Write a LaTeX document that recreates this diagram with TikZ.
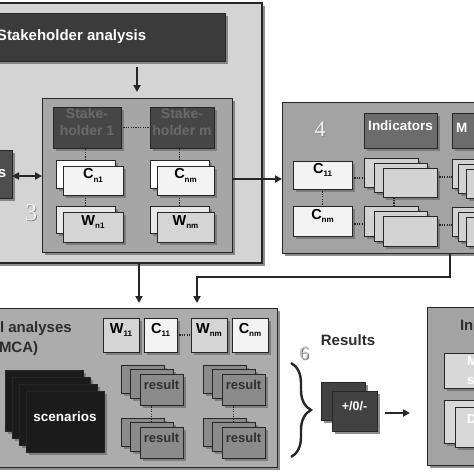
\documentclass[tikz,border=0pt]{standalone}
\usepackage{fontspec}
\setmainfont{Liberation Sans}
\newfontfamily\digitfont{Liberation Serif}
\usetikzlibrary{arrows.meta,fit,shadows,decorations.pathreplacing,calc}
\newcommand\mysub[1]{\raisebox{-0.4ex}{\fontsize{8}{8}\selectfont #1}}
\definecolor{cOuter}{HTML}{D4D4D4}
\definecolor{cDark}{HTML}{3B3B3B}
\definecolor{cLsc}{HTML}{4E4E4E}
\definecolor{cIn3}{HTML}{A6A6A6}
\definecolor{cSh}{HTML}{464646}
\definecolor{cShTxt}{HTML}{6A6A6A}
\definecolor{cC}{HTML}{F3F3F3}
\definecolor{cW}{HTML}{D5D5D5}
\definecolor{cWb}{HTML}{E8E8E8}
\definecolor{cSt4}{HTML}{A3A3A3}
\definecolor{cInd}{HTML}{6C6C6C}
\definecolor{cStack}{HTML}{D3D3D3}
\definecolor{cSt5}{HTML}{ACACAC}
\definecolor{cScen}{HTML}{1B1B1B}
\definecolor{cRes}{HTML}{8B8B8B}
\definecolor{cResTxt}{HTML}{303030}
\definecolor{cPM}{HTML}{424242}
\definecolor{cL7}{HTML}{D8D8D8}
\definecolor{cTxt}{HTML}{2C2C2C}
\begin{document}
\begin{tikzpicture}[x=1pt,y=-1pt,
  bx/.style={draw=black!85, line width=0.9pt, inner sep=0pt, outer sep=0pt, align=center,
    font=\bfseries\fontsize{14}{17}\selectfont,
    drop shadow={shadow xshift=3pt, shadow yshift=-3pt, fill=black!55, opacity=0.8}},
  txt/.style={inner sep=0pt, outer sep=0pt, align=left, font=\bfseries\fontsize{15}{18}\selectfont},
  cw/.style={font=\bfseries\fontsize{14.5}{16}\selectfont},
  dig/.style={inner sep=0pt, font=\digitfont\fontsize{24}{24}\selectfont, text=black!5},
  digs/.style={dig, text=black!45},
  arr/.style={line width=1.8pt, draw=black!85, -{Triangle[length=7pt,width=7pt]}},
  darr/.style={line width=1.8pt, draw=black!85, {Triangle[length=7pt,width=7pt]}-{Triangle[length=7pt,width=7pt]}},
  dotl/.style={line width=1.6pt, draw=black!85, dash pattern=on 1.2pt off 1.2pt}]
\useasboundingbox (0,0) rectangle (474,474);
\fill[white] (0,0) rectangle (474,474);
\clip (0,0) rectangle (474,474);

% ---------- stage 2/3 container ----------
\node[bx, fill=cOuter, line width=1.2pt, fit={(-20,3)(262,263)}] (outer) {};
\node[bx, fill=cDark, fit={(-20,13)(225,61)}] (sa) {};
\node[txt, text=white, anchor=west] (salab) at (-3,37) {Stakeholder analysis};
\node[bx, fill=cLsc, fit={(-20,150)(12,198)}] (lsc) {};
\node[txt, text=white, anchor=west] (lsclab) at (-2,174) {s};

\node[bx, fill=cIn3, fit={(42,98)(232,252)}] (in3) {};
\draw[arr, shorten <=6pt, shorten >=6pt] (sa.south -| in3.north) -- (in3.north);
\draw[darr] (lsc.east |- 0,176) -- (in3.west |- 0,176);

\node[bx, fill=cSh, text=cShTxt, fit={(53,107)(121,148)}] (sh1) {Stake-\\holder 1};
\node[bx, fill=cSh, text=cShTxt, fit={(150,107)(214,148)}] (shm) {Stake-\\holder m};
\draw[dotl] (sh1.east) -- (shm.west);

\node[bx, fill=white, fit={(56,160)(115,188)}] (cn1b) {};
\node[bx, fill=cC, cw, fit={(63,166)(123,195)}] (cn1) {C\mysub{n1}};
\node[bx, fill=cWb, fit={(56,206)(115,233)}] (wn1b) {};
\node[bx, fill=cW, cw, fit={(63,212)(123,242)}] (wn1) {W\mysub{n1}};
\node[bx, fill=white, fit={(150,160)(209,188)}] (cnmb) {};
\node[bx, fill=cC, cw, fit={(157,166)(214,195)}] (cnm) {C\mysub{nm}};
\node[bx, fill=cWb, fit={(150,206)(209,233)}] (wnmb) {};
\node[bx, fill=cW, cw, fit={(157,212)(214,242)}] (wnm) {W\mysub{nm}};
\draw[dotl] (cn1b.north) -- (cn1b.north |- sh1.south);
\draw[dotl] (cnmb.north) -- (cnmb.north |- shm.south);
\draw[dotl] (wn1b.north) -- (wn1b.north |- cn1.south);
\draw[dotl] (wnmb.north) -- (wnmb.north |- cnm.south);
\node[digs] (d3s) at (32,214) {3};
\node[dig] (d3) at (31,213) {3};

% ---------- stage 4 ----------
\node[bx, fill=cSt4, fit={(282,102)(500,253)}] (st4) {};
\draw[arr] (in3.east |- 0,179) -- (st4.west |- 0,179);
\node[digs, font=\digitfont\fontsize{22}{22}\selectfont] (d4s) at (321,130) {4};
\node[dig, font=\digitfont\fontsize{22}{22}\selectfont] (d4) at (320,129) {4};
\node[bx, fill=cInd, text=white, font=\bfseries\fontsize{13.5}{16}\selectfont, fit={(364,113)(437,148)}] (ind) {Indicators};
\node[bx, fill=cInd, fit={(452,113)(500,148)}] (mbox) {};
\node[txt, text=white, anchor=west, font=\bfseries\fontsize{13.5}{16}\selectfont] (mlab) at (456,128) {M};
\node[bx, fill=cC, cw, fit={(293,161)(352,189)}] (c11r) {C\mysub{11}};
\node[bx, fill=cC, cw, fit={(293,206)(352,236)}] (cnmr) {C\mysub{nm}};
\draw[dotl] (c11r.south) -- (cnmr.north);
\node[bx, fill=cStack, fit={(364,158)(418,187)}] (a1a) {};
\node[bx, fill=cStack, fit={(374,163)(427,192)}] (a1b) {};
\node[bx, fill=cStack, fit={(383,168)(437,197)}] (a1c) {};
\node[bx, fill=cStack, fit={(364,206)(418,236)}] (a2a) {};
\node[bx, fill=cStack, fit={(374,211)(427,241)}] (a2b) {};
\node[bx, fill=cStack, fit={(383,216)(437,246)}] (a2c) {};
\node[bx, fill=cStack, fit={(452,159)(506,188)}] (b1a) {};
\node[bx, fill=cStack, fit={(458,164)(512,193)}] (b1b) {};
\node[bx, fill=cStack, fit={(466,169)(520,198)}] (b1c) {};
\node[bx, fill=cStack, fit={(452,207)(506,236)}] (b2a) {};
\node[bx, fill=cStack, fit={(458,212)(512,241)}] (b2b) {};
\node[bx, fill=cStack, fit={(466,217)(520,246)}] (b2c) {};
\draw[dotl] (c11r.east |- 0,178) -- (a1a.west |- 0,178);
\draw[dotl] (cnmr.east |- 0,224) -- (a2a.west |- 0,224);
\draw[dotl] (a1c.east |- 0,177) -- (b1a.west |- 0,177);
\draw[dotl] (a2c.east |- 0,225) -- (b2a.west |- 0,225);
\draw[dotl] (a2a.north -| 394,0) -- (a1c.south -| 394,0);

% ---------- stage 5 ----------
\node[bx, fill=cSt5, fit={(-20,308)(277,467)}] (st5) {};
\draw[arr, shorten >=5pt] (outer.south -| 139,0) -- (st5.north -| 139,0);
\draw[arr, shorten >=5pt] (st4.south -| 450,0) -- (450,277) -| (st5.north -| 197,0);
\node[txt, text=cTxt, anchor=base west] (mca1) at (0,332) {l analyses};
\node[txt, text=cTxt, anchor=base west] (mca2) at (-1,352) {MCA)};
\node[bx, fill=cW, cw, fit={(103,318)(139,352)}] (w115) {W\mysub{11}};
\node[bx, fill=cC, cw, fit={(144,318)(177,352)}] (c115) {C\mysub{11}};
\node[bx, fill=cW, cw, fit={(191,318)(227,352)}] (wnm5) {W\mysub{nm}};
\node[bx, fill=cC, cw, fit={(232,318)(268,352)}] (cnm5) {C\mysub{nm}};
\draw[dotl] (c115.east) -- (wnm5.west);
\node[bx, fill=cScen, fit={(5,370)(83,431)}] (sc1) {};
\node[bx, fill=cScen, fit={(12,377)(90,438)}] (sc2) {};
\node[bx, fill=cScen, fit={(19,384)(97,445)}] (sc3) {};
\node[bx, fill=cScen, text=white, font=\bfseries\fontsize{13.5}{16}\selectfont, fit={(26,391)(104,452)}] (sc4) {scenarios};
\foreach \nm/\xx/\yy in {r1/121/365, r2/121/418, s1/203/365, s2/203/418}{
  \node[bx, fill=cRes, fit={(\xx,\yy)({\xx+43},{\yy+28})}] (\nm a) {};
  \node[bx, fill=cRes, fit={({\xx+9},{\yy+4})({\xx+52},{\yy+33})}] (\nm b) {};
  \node[bx, fill=cRes, text=cResTxt, font=\bfseries\fontsize{13}{16}\selectfont, fit={({\xx+19},{\yy+9})({\xx+62},{\yy+40})}] (\nm c) {result};
}
\draw[dotl] (r2b.north) -- (r2b.north |- r1c.south);
\draw[dotl] (s2b.north) -- (s2b.north |- s1c.south);

% ---------- stage 6 ----------
\node[digs, font=\digitfont\fontsize{19}{19}\selectfont, text=black!55] (d6s) at (305,354) {6};
\node[dig, font=\digitfont\fontsize{19}{19}\selectfont, text=black!25] (d6) at (304,353) {6};
\node[txt, text=cTxt] (res) at (348,340) {Results};
\coordinate (brt) at (291,363);
\coordinate (brb) at (291,457);
\draw[line width=2.4pt, black!85, decorate, decoration={brace, amplitude=20pt, aspect=0.5}] (brt) -- (brb);
\node[bx, fill=cPM, fit={(321,382)(365,420)}] (pmb) {};
\node[bx, fill=cPM, text=white, font=\bfseries\fontsize{12.5}{14}\selectfont, fit={(332,391)(377,431)}] (pmf) {+/0/-};

% ---------- stage 7 ----------
\node[bx, fill=cSt4, fit={(427,307)(500,465)}] (st7) {};
\draw[arr, shorten <=8pt, shorten >=17pt] (pmf.east |- 0,413) -- (st7.west |- 0,413);
\node[txt, text=cTxt, anchor=west] (inlab) at (460,325) {In};
\node[bx, fill=cL7, fit={(444,353)(500,388)}] (s7a) {};
\node[txt, text=white, anchor=west, font=\bfseries\fontsize{13}{19}\selectfont] (s7alab) at (467,371) {M\\s};
\node[bx, fill=cL7, fit={(444,400)(500,443)}] (s7b) {};
\node[bx, fill=cL7, fit={(455,407)(500,447)}] (s7c) {};
\node[txt, text=white, anchor=west, font=\bfseries\fontsize{13}{16}\selectfont] (s7clab) at (467,419) {D};
\end{tikzpicture}
\end{document}
